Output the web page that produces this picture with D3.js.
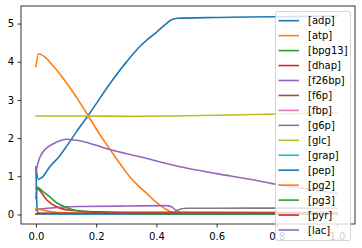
<!DOCTYPE html>
<html>
<head>
<meta charset="utf-8">
<script src="https://cdn.jsdelivr.net/npm/d3@7"></script>
<style>
  body { margin: 0; background: #fff; }
  svg text { font-family: "DejaVu Sans", sans-serif; font-size: 10px; fill: #000; }
  .axis path, .axis line { stroke: #000; stroke-width: 0.8px; }
</style>
</head>
<body>
<div id="chart"></div>
<script>
// species, in legend order
var species = ["[adp]", "[atp]", "[bpg13]", "[dhap]", "[f26bp]", "[f6p]", "[fbp]",
               "[g6p]", "[glc]", "[grap]", "[pep]", "[pg2]", "[pg3]", "[pyr]", "[lac]"];

// [time, concentration]
var adp = [[0,1.25],[0.008,0.92],[0.02,0.97],[0.046,1.25],[0.075,1.5],[0.102,1.79],[0.135,2.17],
           [0.174,2.6],[0.246,3.43],[0.3,3.99],[0.345,4.4],[0.37,4.58],[0.4,4.77],[0.43,4.98],
           [0.45,5.1],[0.47,5.14],[0.6,5.16],[0.8,5.18],[1.0,5.2]];
var atp = [[0,3.88],[0.008,4.21],[0.03,4.12],[0.058,3.88],[0.085,3.62],[0.11,3.35],[0.14,3.0],
           [0.174,2.58],[0.21,2.12],[0.246,1.7],[0.28,1.32],[0.312,0.98],[0.34,0.75],[0.368,0.55],
           [0.395,0.35],[0.423,0.18],[0.445,0.08],[0.46,0.05],[1.0,0.04]];
var bpg13 = [[0,0.01],[0.5,0.005],[1.0,0.005]];
var dhap = [[0,0.42],[0.004,0.69],[0.015,0.6],[0.036,0.38],[0.069,0.2],[0.113,0.11],[0.2,0.07],
            [0.4,0.055],[1.0,0.05]];
var f26bp = [[0,0.12],[0.01,0.14],[0.05,0.17],[0.1,0.2],[0.15,0.21],[0.3,0.22],[0.43,0.23],
             [0.45,0.2],[0.465,0.11],[0.48,0.05],[0.5,0.03],[1.0,0.03]];
var f6p = [[0,0.01],[1.0,0.01]];
var fbp = [[0,0.02],[0.5,0.03],[1.0,0.03]];
var g6p = [[0,0.02],[0.44,0.02],[0.455,0.05],[0.47,0.11],[0.485,0.15],[0.5,0.163],[0.7,0.165],[1.0,0.165]];
var glc = [[0,2.58],[0.15,2.58],[0.3,2.57],[0.45,2.58],[0.6,2.6],[0.8,2.63],[1.0,2.66]];
var grap = [[0,0.02],[0.1,0.01],[1.0,0.01]];
var pep = [[0,1.2],[0.002,0.5],[0.004,0.1],[0.01,0.03],[0.1,0.02],[1.0,0.02]];
var pg2 = [[0,0.16],[0.01,0.14],[0.03,0.1],[0.053,0.07],[0.1,0.04],[0.2,0.03],[1.0,0.03]];
var pg3 = [[0,0.68],[0.005,0.71],[0.02,0.62],[0.046,0.46],[0.07,0.3],[0.09,0.22],[0.12,0.13],
           [0.17,0.07],[0.25,0.03],[0.5,0.01],[1.0,0.01]];
var pyr = [[0,0.02],[0.05,0.03],[0.3,0.04],[1.0,0.04]];
var lac = [[0,1.12],[0.005,1.3],[0.013,1.5],[0.03,1.7],[0.05,1.82],[0.075,1.92],[0.1,1.97],
           [0.146,1.93],[0.2,1.81],[0.246,1.7],[0.312,1.57],[0.345,1.51],[0.478,1.25],[0.6,1.07],
           [0.71,0.92],[0.79,0.8],[0.9,0.67],[1.0,0.55]];

var seriesData = [adp, atp, bpg13, dhap, f26bp, f6p, fbp, g6p, glc, grap, pep, pg2, pg3, pyr, lac];

var xTicks = [0, 0.2, 0.4, 0.6, 0.8, 1.0];
var yTicks = [0, 1, 2, 3, 4, 5];

var chartWidth = 362, chartHeight = 248;
var plotLeft = 21, plotRight = 355, plotTop = 6, plotBottom = 224;

var svg = d3.select("#chart").append("svg")
    .attr("width", chartWidth)
    .attr("height", chartHeight);

var x = d3.scaleLinear().domain([-0.0498, 1.0598]).range([plotLeft, plotRight]);
var y = d3.scaleLinear().domain([-0.25, 5.46]).range([plotBottom, plotTop]);

var color = d3.scaleOrdinal(d3.schemeCategory10);

var line = d3.line()
    .x(function(d) { return x(d[0]); })
    .y(function(d) { return y(d[1]); })
    .curve(d3.curveMonotoneX);

svg.append("g")
  .selectAll("path")
  .data(seriesData)
  .enter().append("path")
    .attr("d", line)
    .attr("fill", "none")
    .attr("stroke", function(d, i) { return color(i % 10); })
    .attr("stroke-width", 1.6)
    .attr("stroke-linejoin", "round")
    .attr("stroke-linecap", "square");

// axes
var xAxis = d3.axisBottom(x).tickValues(xTicks).tickFormat(d3.format(".1f"))
    .tickSize(3.5).tickSizeOuter(0).tickPadding(5);
var yAxis = d3.axisLeft(y).tickValues(yTicks).tickFormat(d3.format("d"))
    .tickSize(3.5).tickSizeOuter(0).tickPadding(3.5);

svg.append("g")
    .attr("class", "axis")
    .attr("transform", "translate(0," + plotBottom + ")")
    .call(xAxis)
    .call(function(g) { g.select(".domain").remove(); });

svg.append("g")
    .attr("class", "axis")
    .attr("transform", "translate(" + plotLeft + ",0)")
    .call(yAxis)
    .call(function(g) { g.select(".domain").remove(); });

svg.selectAll(".axis text").attr("font-family", null).attr("font-size", null).attr("fill", null);

// frame
svg.append("rect")
    .attr("x", plotLeft).attr("y", plotTop)
    .attr("width", plotRight - plotLeft).attr("height", plotBottom - plotTop)
    .attr("fill", "none")
    .attr("stroke", "#000")
    .attr("stroke-width", 0.8);

// legend
var legend = svg.append("g").attr("transform", "translate(275.5,11.5)");

legend.append("rect")
    .attr("width", 75)
    .attr("height", 229)
    .attr("rx", 2)
    .attr("fill", "#fff")
    .attr("fill-opacity", 0.8)
    .attr("stroke", "#cccccc")
    .attr("stroke-width", 0.8);

var item = legend.selectAll(".item")
    .data(species)
  .enter().append("g")
    .attr("class", "item")
    .attr("transform", function(d, i) { return "translate(0," + (9.2 + i * 14.95) + ")"; });

item.append("line")
    .attr("x1", 3).attr("x2", 23.5)
    .attr("stroke", function(d, i) { return color(i % 10); })
    .attr("stroke-width", 1.6);

item.append("text")
    .attr("x", 32.5)
    .attr("y", 3.6)
    .text(function(d) { return d; });
</script>
</body>
</html>
